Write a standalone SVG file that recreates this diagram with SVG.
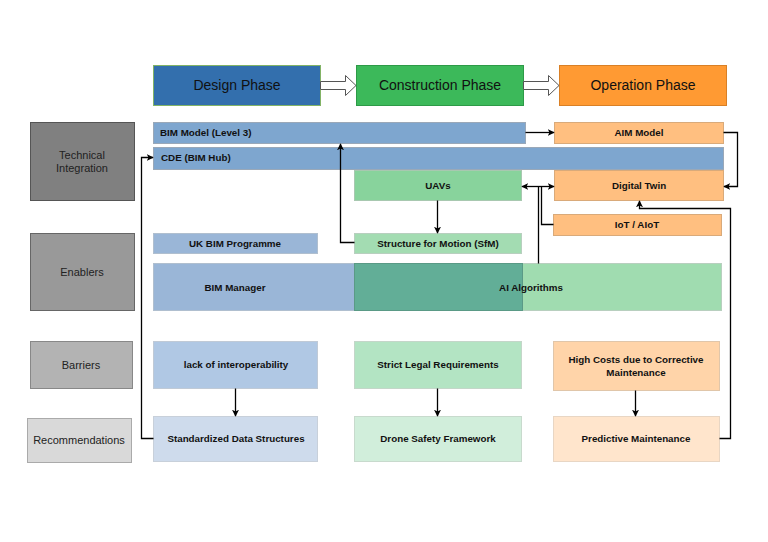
<svg xmlns="http://www.w3.org/2000/svg" width="768" height="542" viewBox="0 0 768 542">
<defs>
<style>
.t{font-family:"Liberation Sans",Arial,sans-serif;font-size:9.8px;font-weight:bold;fill:#111;}
.ph{font-family:"Liberation Sans",Arial,sans-serif;font-size:14px;fill:#111;}
.lb{font-family:"Liberation Sans",Arial,sans-serif;font-size:11px;fill:#222;}
.c{fill:none;stroke:#000;stroke-width:1.3;}
</style>
<marker id="ah" viewBox="0 0 10 10" refX="9" refY="5" markerWidth="7" markerHeight="7" orient="auto-start-reverse" markerUnits="userSpaceOnUse">
<path d="M0,0 L10,5 L0,10 L2.5,5 z" fill="#000"/>
</marker>
</defs>
<rect width="768" height="542" fill="#fff"/>

<g id="design-phase"><rect x="153.5" y="65.5" width="167" height="40" fill="#336fad" stroke="#82b366"/><text class="ph" x="237" y="90" text-anchor="middle">Design Phase</text></g>
<g id="construction-phase"><rect x="356.5" y="65.5" width="167" height="40" fill="#3cb95a" stroke="#2d9a47"/><text class="ph" x="440" y="90" text-anchor="middle">Construction Phase</text></g>
<g id="operation-phase"><rect x="559.5" y="65.5" width="167" height="40" fill="#ff9a33" stroke="#d98026"/><text class="ph" x="643" y="90" text-anchor="middle">Operation Phase</text></g>

<g id="label-tech"><rect x="30.5" y="122.5" width="104" height="78" fill="#808080" stroke="#555"/><text class="lb" x="82" y="159" text-anchor="middle">Technical</text><text class="lb" x="82" y="172" text-anchor="middle">Integration</text></g>
<g id="label-enablers"><rect x="30.5" y="233.5" width="104" height="77" fill="#999999" stroke="#666"/><text class="lb" x="82" y="276" text-anchor="middle">Enablers</text></g>
<g id="label-barriers"><rect x="30.5" y="341.5" width="102" height="47" fill="#b3b3b3" stroke="#888"/><text class="lb" x="81" y="369" text-anchor="middle">Barriers</text></g>
<g id="label-recommendations"><rect x="27.5" y="418.5" width="104" height="44" fill="#d9d9d9" stroke="#aaa"/><text class="lb" x="79" y="444" text-anchor="middle">Recommendations</text></g>

<g id="bim-model"><rect x="153.5" y="122.5" width="372" height="21" fill="#7ea6cf" stroke="#9aa8b8"/><text class="t" x="160" y="136">BIM Model (Level 3)</text></g>
<g id="cde"><rect x="153.5" y="147.5" width="570" height="22" fill="#7ea6cf" stroke="#9aa8b8"/><text class="t" x="161" y="161">CDE (BIM Hub)</text></g>
<g id="aim-model"><rect x="554.5" y="122.5" width="169" height="21" fill="#ffbf80" stroke="#d9aa7a"/><text class="t" x="639" y="136" text-anchor="middle">AIM Model</text></g>
<g id="uavs"><rect x="354.5" y="170.5" width="167" height="30" fill="#88d39c" stroke="#a8c8b0"/><text class="t" x="438" y="189" text-anchor="middle">UAVs</text></g>
<g id="digital-twin"><rect x="554.5" y="170.5" width="169" height="30" fill="#ffbf80" stroke="#d9aa7a"/><text class="t" x="639" y="189" text-anchor="middle">Digital Twin</text></g>
<g id="iot"><rect x="553.5" y="214.5" width="168" height="21" fill="#ffbf80" stroke="#d9aa7a"/><text class="t" x="637" y="228" text-anchor="middle">IoT / AIoT</text></g>
<g id="uk-bim"><rect x="153.5" y="233.5" width="164" height="20" fill="#9ab6d7" stroke="#b0bfcf"/><text class="t" x="235" y="246.5" text-anchor="middle">UK BIM Programme</text></g>
<g id="sfm"><rect x="354.5" y="233.5" width="167" height="20" fill="#a3dcb2" stroke="#b8cfbf"/><text class="t" x="438" y="246.5" text-anchor="middle">Structure for Motion (SfM)</text></g>

<g id="bim-manager"><rect x="153.5" y="263.5" width="201" height="47" fill="#9ab6d7" stroke="#b0bfcf"/><text class="t" x="235" y="290.5" text-anchor="middle">BIM Manager</text></g>
<g id="ai-algorithms"><rect x="354.5" y="263.5" width="367" height="47" fill="#a0dcb0" stroke="#b8cfbf"/><rect x="354.5" y="263.5" width="168" height="47" fill="#62ae97" stroke="#5a9a86"/><text class="t" x="531" y="290.5" text-anchor="middle">AI Algorithms</text></g>

<g id="lack-interop"><rect x="153.5" y="341.5" width="164" height="47" fill="#b0c8e4" stroke="#c0cad6"/><text class="t" x="236" y="368" text-anchor="middle">lack of interoperability</text></g>
<g id="strict-legal"><rect x="354.5" y="341.5" width="167" height="47" fill="#b3e4c3" stroke="#c4d6c9"/><text class="t" x="438" y="368" text-anchor="middle">Strict Legal Requirements</text></g>
<g id="high-costs"><rect x="553.5" y="341.5" width="166" height="49" fill="#ffd4a9" stroke="#e0c6aa"/><text class="t" x="636" y="363" text-anchor="middle">High Costs due to Corrective</text><text class="t" x="636" y="375.5" text-anchor="middle">Maintenance</text></g>

<g id="standardized"><rect x="153.5" y="416.5" width="164" height="45" fill="#cedbec" stroke="#c8d0da"/><text class="t" x="236" y="442" text-anchor="middle">Standardized Data Structures</text></g>
<g id="drone-safety"><rect x="354.5" y="416.5" width="167" height="45" fill="#d1eedb" stroke="#c8dacd"/><text class="t" x="438" y="442" text-anchor="middle">Drone Safety Framework</text></g>
<g id="predictive"><rect x="553.5" y="416.5" width="166" height="45" fill="#ffe5cc" stroke="#e8d6c4"/><text class="t" x="636" y="442" text-anchor="middle">Predictive Maintenance</text></g>

<g id="connectors">
<polygon points="320.5,81.5 345.5,81.5 345.5,75.5 356,85.5 345.5,95.5 345.5,89.5 320.5,89.5" fill="#fff" stroke="#555"/>
<polygon points="523.5,81.5 548.5,81.5 548.5,75.5 559,85.5 548.5,95.5 548.5,89.5 523.5,89.5" fill="#fff" stroke="#555"/>
<path class="c" d="M525.5,132.5 H554" marker-end="url(#ah)"/>
<path class="c" d="M723.5,132.5 H737.5 V186.5 H724" marker-end="url(#ah)"/>
<path class="c" d="M522,186.5 H554" marker-start="url(#ah)" marker-end="url(#ah)"/>
<path class="c" d="M553.5,224.5 H541.5 V186.5"/>
<path class="c" d="M538.5,263.5 V186.5"/>
<path class="c" d="M437.5,200.5 V233" marker-end="url(#ah)"/>
<path class="c" d="M354.5,242.5 H340.5 V144" marker-end="url(#ah)"/>
<path class="c" d="M153.5,438.5 H141.5 V157.5 H153" marker-end="url(#ah)"/>
<path class="c" d="M719.5,438.5 H730.5 V208.5 H639.5 V201" marker-end="url(#ah)"/>
<path class="c" d="M235.5,388.5 V416" marker-end="url(#ah)"/>
<path class="c" d="M437.5,388.5 V416" marker-end="url(#ah)"/>
<path class="c" d="M635.5,390.5 V416" marker-end="url(#ah)"/>
</g>
</svg>
